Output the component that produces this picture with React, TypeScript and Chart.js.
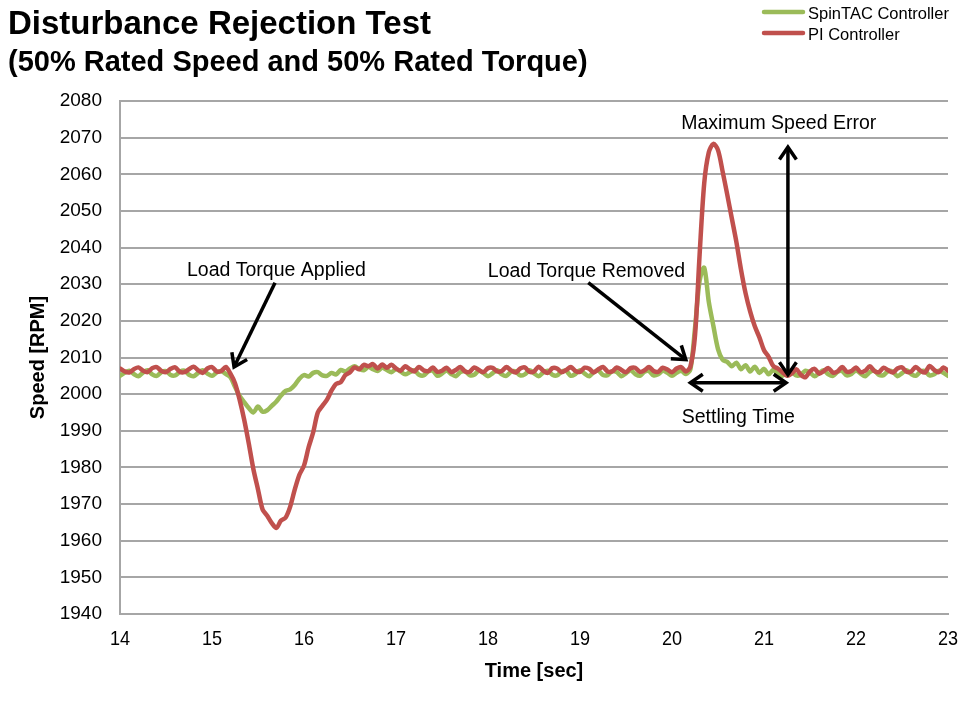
import React, { useEffect, useRef } from 'react';
import { Chart, registerables } from 'chart.js';

Chart.register(...registerables);

// Logged speed, sampled every 50 ms starting at t = 14 s
const T_START = 14;
const T_STEP = 0.05;

const spinTacRpm = [
  2005.0, 2005.8, 2006.4, 2005.5, 2004.9, 2005.9, 2006.5, 2005.4, 2005.0, 2006.0,
  2006.3, 2005.2, 2005.1, 2006.1, 2006.4, 2005.3, 2004.9, 2005.8, 2006.5, 2005.6,
  2005.0, 2005.9, 2006.3, 2005.5, 2004.6, 2002.0, 1999.5, 1997.8, 1996.2, 1995.0,
  1996.6, 1995.2, 1995.6, 1996.8, 1998.0, 1999.6, 2000.9, 2001.3, 2002.5, 2004.2,
  2005.2, 2004.8, 2005.8, 2006.0, 2005.1, 2005.0, 2005.8, 2005.4, 2006.6, 2006.2,
  2007.0, 2007.6, 2006.9, 2006.5, 2007.4, 2006.8, 2006.3, 2007.2, 2006.6, 2006.0,
  2006.8, 2006.2, 2005.4, 2006.0, 2006.5, 2005.3, 2005.1, 2006.2, 2006.4, 2005.0,
  2005.6, 2006.5, 2005.5, 2004.9, 2006.0, 2006.3, 2005.2, 2005.3, 2006.4, 2005.8,
  2004.9, 2005.7, 2006.5, 2005.4, 2005.0, 2006.1, 2006.2, 2005.1, 2005.4, 2006.5,
  2005.7, 2004.9, 2005.9, 2006.4, 2005.3, 2005.1, 2006.2, 2006.3, 2005.0, 2005.5,
  2006.5, 2005.6, 2004.9, 2006.0, 2006.4, 2005.2, 2005.2, 2006.3, 2006.0, 2004.9,
  2005.7, 2006.5, 2005.5, 2005.0, 2006.1, 2006.3, 2005.1, 2005.4, 2006.4, 2005.8,
  2005.0, 2005.8, 2006.4, 2005.5, 2006.8, 2018.0, 2031.0, 2034.5, 2025.2, 2018.6,
  2012.3, 2009.4, 2008.8, 2007.6, 2008.6, 2006.8, 2007.9, 2006.2, 2007.5, 2005.8,
  2006.9, 2005.4, 2006.6, 2005.6, 2005.0, 2006.2, 2006.3, 2005.1, 2005.3, 2006.4,
  2005.9, 2004.9, 2005.8, 2006.5, 2005.4, 2005.0, 2006.1, 2006.3, 2005.1, 2005.5,
  2006.5, 2005.6, 2004.9, 2006.0, 2006.4, 2005.2, 2005.2, 2006.3, 2006.1, 2004.9,
  2005.7, 2006.5, 2005.5, 2005.0, 2006.1, 2006.3, 2005.1, 2005.4, 2006.4, 2005.8,
  2005.0,
];

const piRpm = [
  2007.0, 2006.2, 2005.9, 2006.8, 2007.3, 2006.4, 2006.0, 2007.1, 2007.4, 2006.3,
  2006.0, 2006.9, 2007.3, 2006.1, 2006.0, 2006.8, 2007.5, 2006.5, 2005.8, 2007.0,
  2007.4, 2006.2, 2006.3, 2007.4, 2005.6, 2003.0, 1998.5, 1993.0, 1986.5, 1979.5,
  1974.0, 1968.5, 1966.8, 1964.8, 1963.5, 1965.5, 1966.3, 1969.3, 1974.0, 1978.0,
  1980.5, 1985.5, 1989.6, 1995.0, 1996.8, 1998.5, 2001.0, 2002.8, 2003.3, 2005.2,
  2006.0, 2007.3, 2006.8, 2008.0, 2007.6, 2008.2, 2007.0, 2008.1, 2007.2, 2008.0,
  2007.0, 2006.4, 2007.6, 2006.8, 2006.2, 2007.4, 2006.5, 2006.3, 2007.3, 2006.1,
  2006.4, 2007.2, 2006.0, 2006.6, 2007.4, 2006.2, 2006.1, 2007.3, 2006.6, 2006.0,
  2007.1, 2007.2, 2006.2, 2006.3, 2007.4, 2006.5, 2005.9, 2007.0, 2007.3, 2006.1,
  2006.2, 2007.5, 2006.4, 2005.8, 2007.1, 2007.0, 2006.0, 2006.6, 2007.4, 2006.3,
  2006.1, 2007.2, 2006.9, 2005.9, 2006.8, 2007.4, 2006.2, 2006.2, 2007.3, 2006.6,
  2006.0, 2007.1, 2007.2, 2006.1, 2006.5, 2007.4, 2006.3, 2006.1, 2007.2, 2006.7,
  2006.0, 2007.0, 2007.4, 2006.2, 2007.5, 2016.0, 2038.0, 2057.5, 2066.0, 2068.3,
  2066.6, 2060.8, 2054.5, 2048.0, 2041.5, 2034.0, 2027.5, 2022.5, 2018.5, 2015.5,
  2012.0, 2010.2, 2007.7, 2007.0, 2006.0, 2005.0, 2005.6, 2006.8, 2005.3, 2004.6,
  2006.2, 2006.9, 2005.6, 2006.3, 2007.1, 2005.9, 2006.2, 2007.4, 2006.1, 2006.3,
  2007.3, 2006.0, 2006.4, 2007.6, 2006.3, 2006.0, 2007.2, 2006.5, 2005.9, 2007.0,
  2007.3, 2006.1, 2006.2, 2007.4, 2006.4, 2005.9, 2007.7, 2006.6, 2006.0, 2007.3,
  2006.4,
];

const seriesNames = ['SpinTAC Controller', 'PI Controller'];

// Axis ranges (seconds, RPM)
const timeRange = [14, 23];
const timeStep = 1;
const speedRange = [1940, 2080];
const speedStep = 10;

const titleLines = ['Disturbance Rejection Test', '(50% Rated Speed and 50% Rated Torque)'];
const xAxisTitle = 'Time [sec]';
const yAxisTitle = 'Speed [RPM]';

// Callout texts and arrows, in data units [time, rpm]
const calloutTexts = [
  { text: 'Load Torque Applied', at: [15.7, 2033.6] },
  { text: 'Load Torque Removed', at: [19.07, 2033.4] },
  { text: 'Maximum Speed Error', at: [21.16, 2073.7] },
  { text: 'Settling Time', at: [20.72, 1993.5] },
];
const calloutArrows = [
  { from: [15.685, 2030.4], to: [15.24, 2007.4], both: false },
  { from: [19.09, 2030.4], to: [20.15, 2009.4], both: false },
  { from: [21.26, 2005.3], to: [21.26, 2067.4], both: true },
  { from: [20.2, 2003.1], to: [21.24, 2003.1], both: true },
];

const GREEN = '#9bbb59';
const RED = '#c0504d';
const GRID = '#a6a6a6';
const SANS = "'Liberation Sans', Arial, Helvetica, sans-serif";

const toPoints = (vals: number[]) =>
  vals.map((v, i) => ({ x: +(T_START + i * T_STEP).toFixed(2), y: v }));

function drawHead(ctx: CanvasRenderingContext2D, tx: number, ty: number, fx: number, fy: number) {
  const ang = Math.atan2(ty - fy, tx - fx);
  const len = 15;
  const spread = 0.6;
  ctx.beginPath();
  ctx.moveTo(tx - len * Math.cos(ang - spread), ty - len * Math.sin(ang - spread));
  ctx.lineTo(tx, ty);
  ctx.lineTo(tx - len * Math.cos(ang + spread), ty - len * Math.sin(ang + spread));
  ctx.stroke();
}

const decorations = {
  id: 'decorations',
  afterDraw(chart: any) {
    const { ctx } = chart;
    const xs = chart.scales.x;
    const ys = chart.scales.y;
    ctx.save();

    // Heading
    ctx.fillStyle = '#000';
    ctx.textAlign = 'left';
    ctx.textBaseline = 'alphabetic';
    ctx.font = `bold 33px ${SANS}`;
    ctx.fillText(titleLines[0], 8, 34);
    ctx.font = `bold 29px ${SANS}`;
    ctx.fillText(titleLines[1], 8, 71);

    // Time tick labels, set in a condensed face
    ctx.font = `21px ${SANS}`;
    ctx.textAlign = 'center';
    ctx.textBaseline = 'middle';
    for (const t of xs.ticks) {
      const px = xs.getPixelForValue(t.value);
      ctx.save();
      ctx.translate(px, xs.top + 25);
      ctx.scale(0.86, 1);
      ctx.fillText(String(t.value), 0, 0);
      ctx.restore();
    }

    // Legend
    const legendRows = [
      { name: seriesNames[0], color: GREEN, y: 12 },
      { name: seriesNames[1], color: RED, y: 33 },
    ];
    ctx.lineCap = 'round';
    ctx.lineWidth = 4.5;
    ctx.font = `16.5px ${SANS}`;
    ctx.textAlign = 'left';
    ctx.textBaseline = 'middle';
    for (const row of legendRows) {
      ctx.strokeStyle = row.color;
      ctx.beginPath();
      ctx.moveTo(764, row.y);
      ctx.lineTo(803, row.y);
      ctx.stroke();
      ctx.fillStyle = '#000';
      ctx.fillText(row.name, 808, row.y + 2);
    }

    // Callouts
    ctx.strokeStyle = '#000';
    ctx.fillStyle = '#000';
    ctx.lineWidth = 3.5;
    ctx.lineCap = 'butt';
    ctx.lineJoin = 'miter';
    for (const a of calloutArrows) {
      const fx = xs.getPixelForValue(a.from[0]);
      const fy = ys.getPixelForValue(a.from[1]);
      const tx = xs.getPixelForValue(a.to[0]);
      const ty = ys.getPixelForValue(a.to[1]);
      ctx.beginPath();
      ctx.moveTo(fx, fy);
      ctx.lineTo(tx, ty);
      ctx.stroke();
      drawHead(ctx, tx, ty, fx, fy);
      if (a.both) drawHead(ctx, fx, fy, tx, ty);
    }
    ctx.font = `19.5px ${SANS}`;
    ctx.textAlign = 'center';
    ctx.textBaseline = 'middle';
    for (const c of calloutTexts) {
      ctx.fillText(c.text, xs.getPixelForValue(c.at[0]), ys.getPixelForValue(c.at[1]));
    }
    ctx.restore();
  },
};

export default function App() {
  const canvasRef = useRef<HTMLCanvasElement | null>(null);

  useEffect(() => {
    if (!canvasRef.current) return;
    const chart = new Chart(canvasRef.current, {
      type: 'line',
      data: {
        datasets: [
          {
            label: seriesNames[0],
            data: toPoints(spinTacRpm),
            borderColor: GREEN,
            borderWidth: 4.5,
            pointRadius: 0,
            tension: 0.3,
            borderJoinStyle: 'round',
            borderCapStyle: 'round',
            order: 2,
          },
          {
            label: seriesNames[1],
            data: toPoints(piRpm),
            borderColor: RED,
            borderWidth: 4.5,
            pointRadius: 0,
            tension: 0.3,
            borderJoinStyle: 'round',
            borderCapStyle: 'round',
            order: 1,
          },
        ],
      },
      options: {
        responsive: false,
        animation: false,
        layout: { padding: { left: 0, top: 101, right: 27, bottom: 0 } },
        plugins: { legend: { display: false }, title: { display: false }, tooltip: { enabled: false } },
        scales: {
          x: {
            type: 'linear',
            min: timeRange[0],
            max: timeRange[1],
            afterFit: (s: any) => { s.height = 94; },
            grid: { display: false, drawTicks: false },
            border: { display: true, color: GRID, width: 2 },
            ticks: {
              stepSize: timeStep,
              display: false,
              maxRotation: 0,
            },
            title: {
              display: true,
              text: xAxisTitle,
              color: '#000',
              font: { family: SANS, size: 20, weight: 'bold' },
              padding: { top: 0, bottom: 25 },
            },
          },
          y: {
            type: 'linear',
            min: speedRange[0],
            max: speedRange[1],
            afterFit: (s: any) => { s.width = 120; },
            grid: { color: GRID, lineWidth: 2, drawTicks: false },
            border: { display: true, color: GRID, width: 2 },
            ticks: {
              stepSize: speedStep,
              padding: 18,
              color: '#000',
              font: { family: SANS, size: 19 },
              callback: (v: any) => String(v),
            },
            title: {
              display: true,
              text: yAxisTitle,
              color: '#000',
              font: { family: SANS, size: 20, weight: 'bold' },
              padding: { top: 26, bottom: 0 },
            },
          },
        },
      },
      plugins: [decorations],
    });
    return () => chart.destroy();
  }, []);

  return (
    <div style={{ position: 'absolute', left: 0, top: 0, width: 975, height: 708, background: '#fff' }}>
      <canvas ref={canvasRef} width={975} height={708} style={{ display: 'block' }} />
    </div>
  );
}
